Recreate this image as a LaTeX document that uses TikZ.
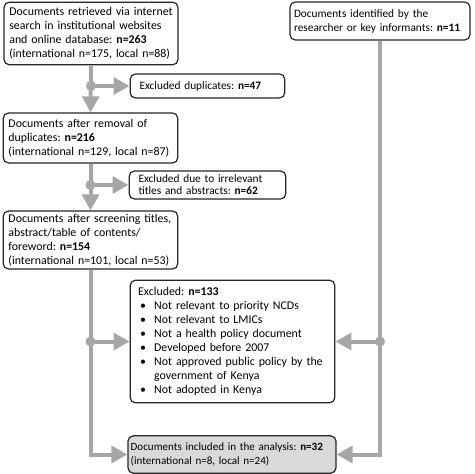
\documentclass[tikz,border=0pt]{standalone}
\usepackage{fontspec}
\setmainfont{Carlito}
\usepackage{tikz}
\usetikzlibrary{arrows.meta}
\definecolor{flowgray}{HTML}{A6A6A6}
\definecolor{boxline}{HTML}{262626}
\definecolor{keepfill}{HTML}{D9D9D9}
\newcommand{\bitem}{\makebox[12pt][l]{\hspace{1.5pt}\textbullet}}
\frenchspacing

\begin{document}
\begin{tikzpicture}[x=0.75pt,y=-0.75pt,
  docbox/.style={draw=boxline, line width=0.9pt, rounded corners=4pt, fill=white, align=left,
    inner xsep=4pt, inner ysep=1pt, font=\fontsize{8.9}{10.5}\selectfont},
  exbox/.style={docbox, inner xsep=7pt, font=\fontsize{8.5}{9}\selectfont},
  flow/.style={flowgray, line width=3pt, -{Triangle[length=12pt,width=12.5pt]}},
  fork/.style={flowgray}]
\useasboundingbox (0,0) rectangle (474,474);

% Sources
\node[docbox, text width=122.5pt, minimum height=47pt] (retr) at (91,33.5)
  {Documents retrieved via internet\\search in institutional websites\\and online database: \textbf{n=263}\\(international n=175, local n=88)};
\node[docbox, inner xsep=3pt, font=\fontsize{8.5}{10.5}\selectfont, text width=129pt, minimum height=28.5pt] (ident) at (380,21)
  {Documents identified by the\\researcher or key informants: \textbf{n=11}};

% Screening steps
\node[exbox, text width=102pt, minimum height=18pt] (dup) at (207.5,86)
  {Excluded duplicates: \textbf{n=47}};
\node[docbox, text width=123pt, minimum height=37.5pt] (afterdup) at (90.5,138)
  {Documents after removal of\\duplicates: \textbf{n=216}\\(international n=129, local n=87)};
\node[exbox, text width=103.5pt, minimum height=21pt] (irr) at (207.5,185)
  {Excluded due to irrelevant\\titles and abstracts: \textbf{n=62}};
\node[docbox, text width=123pt, minimum height=43.5pt] (screen) at (90.5,240)
  {Documents after screening titles,\\abstract/table of contents/\\foreword: \textbf{n=154}\\(international n=101, local n=53)};

% Full text
\node[docbox, inner xsep=6pt, text width=141.5pt, minimum height=92pt] (excl) at (232.5,341.5)
  {Excluded: \textbf{n=133}\\
   \bitem Not relevant to priority NCDs\\
   \bitem Not relevant to LMICs\\
   \bitem Not a health policy document\\
   \bitem Developed before 2007\\
   \bitem Not approved public policy by the\\
   \hspace*{12pt}government of Kenya\\
   \bitem Not adopted in Kenya};
\node[docbox, fill=keepfill, inner xsep=2pt, font=\fontsize{8.3}{11}\selectfont, text width=152pt, minimum height=28pt] (incl) at (232,454.5)
  {Documents included in the analysis: \textbf{n=32}\\(international n=8, local n=24)};

% Connectors
\draw[flow] (retr.south) -- (afterdup.north);
\coordinate (dupfork) at (retr.south |- dup.west);
\draw[flow] (dupfork) -- (dup.west);
\fill[fork] (dupfork) circle (3.75pt);

\draw[flow] (afterdup.south) -- (screen.north);
\coordinate (irrfork) at (afterdup.south |- irr.west);
\draw[flow] (irrfork) -- (irr.west);
\fill[fork] (irrfork) circle (3.75pt);

\draw[flow] (screen.south) |- (incl.west);
\coordinate (exclforkL) at (screen.south |- excl.west);
\draw[flow] (exclforkL) -- (excl.west);
\fill[fork] (exclforkL) circle (3.75pt);

\draw[flow] (ident.south) |- (incl.east);
\coordinate (exclforkR) at (ident.south |- excl.east);
\draw[flow] (exclforkR) -- (excl.east);
\fill[fork] (exclforkR) circle (3.75pt);

\end{tikzpicture}
\end{document}
